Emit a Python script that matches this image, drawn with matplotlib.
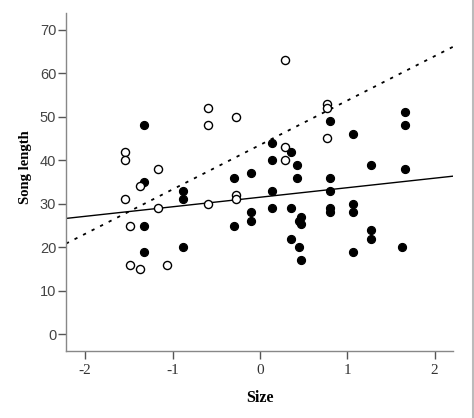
import matplotlib
matplotlib.use("Agg")
from matplotlib import pyplot as plt
from matplotlib.lines import Line2D
import numpy as np

# open circles (one group)
open_x = [-1.55, -1.55, -1.17, -1.37, -1.55, -1.165, -0.60, -1.49, -1.49, -1.37, -1.065,
          -0.60, -0.60, -0.275, -0.275, -0.275, 0.29, 0.77, 0.77, 0.77, 0.29, 0.29]
open_y = [42, 40, 38, 34, 31, 29, 30, 25, 16, 15, 16,
          52, 48, 50, 32, 31, 63, 53, 52, 45, 43, 40]

# filled circles (other group)
fill_x = [-1.33, -1.33, -1.33, -1.33, -0.88, -0.88, -0.88, -0.30, -0.30, -0.10, -0.10, -0.10,
          0.14, 0.14, 0.14, 0.14, 0.355, 0.355, 0.355, 0.42, 0.42, 0.47, 0.45, 0.47, 0.45, 0.47,
          0.80, 0.80, 0.80, 0.80, 0.80, 1.06, 1.06, 1.06, 1.06, 1.275, 1.275, 1.275,
          1.66, 1.66, 1.66, 1.63]
fill_y = [48, 35, 25, 19, 33, 31, 20, 36, 25, 37, 28, 26,
          44, 40, 33, 29, 42, 29, 22, 39, 36, 27, 26, 25.3, 20, 17,
          49, 36, 33, 29, 28, 46, 30, 28, 19, 39, 24, 22,
          51, 48, 38, 20]

# fit lines (intercept, slope)
solid_fit = (31.5, 2.19)
dashed_fit = (43.5, 10.2)

xticks = [-2, -1, 0, 1, 2]
yticks = [0, 10, 20, 30, 40, 50, 60, 70]
xlim = (-2.22, 2.21)
ylim = (-3.8, 73.8)

fig = plt.figure(figsize=(4.74, 4.18), dpi=100)
ax = fig.add_axes([66 / 474, 67 / 418, 387 / 474, 338 / 418])

ax.scatter(fill_x, fill_y, s=34, c="black", edgecolors="black", linewidths=0.8, zorder=3)
ax.scatter(open_x, open_y, s=34, facecolors="white", edgecolors="black", linewidths=1.0, zorder=3)

xx = np.array(xlim)
ax.plot(xx, solid_fit[0] + solid_fit[1] * xx, color="black", lw=1.0, zorder=2)
ax.plot(xx, dashed_fit[0] + dashed_fit[1] * xx, color="black", lw=1.3,
        linestyle=(0, (1.8, 3.5)), zorder=2)

ax.set_xlim(*xlim)
ax.set_ylim(*ylim)
ax.set_xticks(xticks)
ax.set_yticks(yticks)
ax.set_xticklabels([str(t) for t in xticks], fontfamily="Liberation Serif", fontsize=11, color="#333333")
ax.set_yticklabels([str(t) for t in yticks], fontfamily="Liberation Sans", fontsize=10.5, color="#444444")
ax.tick_params(axis="both", direction="out", length=6, width=1.0, color="#555555")
ax.tick_params(axis="x", pad=3)
ax.tick_params(axis="y", pad=1)

for side in ["top", "right"]:
    ax.spines[side].set_visible(False)
for side in ["left", "bottom"]:
    ax.spines[side].set_color("#888888")
    ax.spines[side].set_linewidth(1.0)

ax.set_xlabel("Size", fontfamily="Liberation Serif", fontweight="bold", fontsize=11.5, labelpad=10)
ax.set_ylabel("Song length", fontfamily="Liberation Serif", fontweight="bold", fontsize=10.5)
ax.yaxis.set_label_coords(-0.088, 0.543)

# thin border at the right edge of the image
fig.add_artist(Line2D([0.997, 0.997], [0, 1], transform=fig.transFigure, color="#bbbbbb", lw=1.5))

fig.savefig("out.png", dpi=100)
